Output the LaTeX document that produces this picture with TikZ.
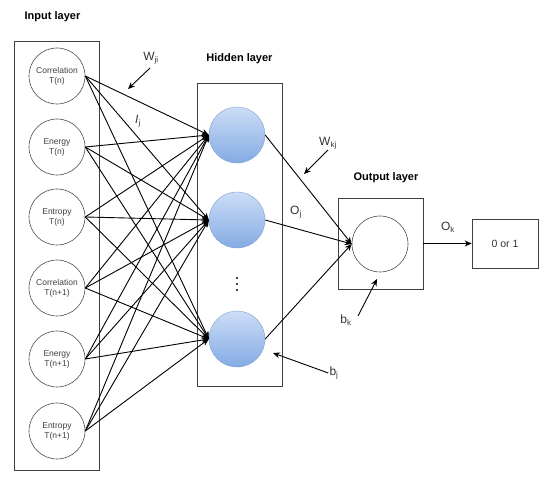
\documentclass[tikz,border=0pt]{standalone}
\usepackage{fontspec}
\setmainfont{Liberation Sans}
\usetikzlibrary{arrows.meta}
\definecolor{hidtop}{HTML}{CCDDF6}
\definecolor{hidbot}{HTML}{84ABE4}
\definecolor{hidline}{HTML}{7C9ED0}
\begin{document}
\begin{tikzpicture}[x=1pt,y=-1pt,>={Stealth[length=7pt,width=6pt]},
        layer/.style={draw=black!75,line width=0.6pt,inner sep=0pt},
        inp/.style={circle,draw=black!70,line width=0.6pt,minimum size=56pt,inner sep=0pt,align=center,
            font=\fontsize{8.5}{10}\selectfont,text=black!75},
        hid/.style={circle,draw=hidline,top color=hidtop,bottom color=hidbot,minimum size=56pt,inner sep=0pt},
        lbl/.style={font=\fontsize{12}{14}\selectfont,text=black!80,inner sep=1pt},
        ttl/.style={font=\bfseries\fontsize{11}{13}\selectfont},
        link/.style={->,line width=0.9pt}]
    \useasboundingbox (0,0) rectangle (550,484);
    % layer boxes
    \node[layer,minimum width=85pt,minimum height=429pt] (inbox) at (56.5,255.5) {};
    \node[layer,minimum width=85pt,minimum height=303pt] (hidbox) at (239.5,234.5) {};
    \node[layer,minimum width=85pt,minimum height=91pt] (outbox) at (380.5,243.5) {};
    \node[layer,minimum width=66pt,minimum height=49pt,font=\fontsize{10.5}{12}\selectfont,text=black!80] (res) at (505,243.5) {0 or 1};
    % titles
    \node[ttl] (intitle) at (52.5,17) {Input layer};
    \node[ttl] (hidtitle) at (239.5,59) {Hidden layer};
    \node[ttl] (outtitle) at (386,178) {Output layer};
    % input neurons
    \foreach \i/\y/\txt in {1/76/Correlation\\T(n), 2/147/Energy\\T(n), 3/217/Entropy\\T(n),
            4/288/Correlation\\T(n+1), 5/359/Energy\\T(n+1), 6/431/Entropy\\T(n+1)}
        \node[inp] (in\i) at (57,\y) {\txt};
    % hidden and output neurons
    \node[hid] (h1) at (237,135) {};
    \node[hid] (h2) at (237,220) {};
    \node[hid] (h3) at (237,339) {};
    \foreach \y in {278,284,290}
        \fill[black!75] (235.5,\y-1.2) rectangle (237.5,\y+1.2);
    \node[circle,draw=black!70,line width=0.6pt,minimum size=56pt,inner sep=0pt] (out) at (380,244) {};
    % connections
    \foreach \i in {1,...,6}
        \foreach \j in {1,2,3}
            \draw[link] (in\i.east) -- (h\j.west);
    \foreach \j in {1,2,3}
        \draw[link] (h\j.east) -- (out.west);
    \draw[link] (outbox.east) -- (res.west);
    % labels
    \node[lbl] (wji) at (151,58) {W\textsubscript{ji}};
    \node[lbl] (ij) at (138,121) {\textit{I}\textsubscript{j}};
    \node[lbl] (wkj) at (328,143) {W\textsubscript{kj}};
    \node[lbl] (oj) at (296,212) {O\textsubscript{j}};
    \node[lbl] (ok) at (448,227) {O\textsubscript{k}};
    \node[lbl] (bk) at (346,320) {b\textsubscript{k}};
    \node[lbl] (bj) at (334,373) {b\textsubscript{j}};
    \coordinate (wjitip) at (128,89);
    \coordinate (wkjtip) at (304,174);
    \coordinate (bktip) at (377,279);
    \coordinate (bjtip) at (273,353);
    \draw[link] (150,68) -- (wjitip);
    \draw[link] (wkj.south) -- (wkjtip);
    \draw[link] (358,316) -- (bktip);
    \draw[link] (bj.west) -- (bjtip);
\end{tikzpicture}
\end{document}
